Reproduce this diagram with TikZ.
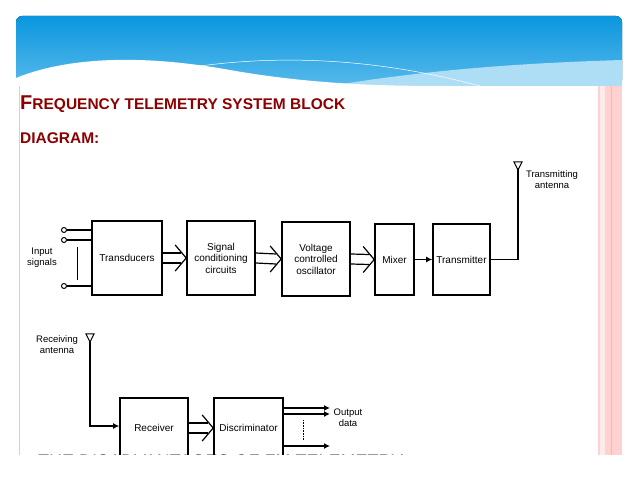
\documentclass[tikz,border=0pt]{standalone}
\usepackage{fontspec}
\setmainfont{Liberation Sans}
\usetikzlibrary{arrows.meta}
\begin{document}
\begin{tikzpicture}[x=1pt,y=-1pt,
  blk/.style={draw,line width=1.6pt,inner sep=0pt,align=center,font=\fontsize{10}{11.5}\selectfont},
  lbl/.style={align=center,font=\fontsize{9.5}{11}\selectfont},
  ln/.style={line width=1.2pt},
  arr/.style={ln,-{Latex[length=6pt,width=6pt]}},
  ttl/.style={font=\bfseries\fontsize{20}{22}\selectfont,text=red!55!black,anchor=west,inner sep=0pt}]
\useasboundingbox (0,0) rectangle (638,478);
\fill[white] (0,0) rectangle (638,478);
% header
\definecolor{hb}{RGB}{10,150,222}
\definecolor{hl}{RGB}{120,200,240}
\fill[top color=hb,bottom color=hl!70!hb,rounded corners=6pt] (16,86) -- (16,16) -- (622,16) -- (622,86) -- cycle;
\fill[hl!60!white] (330,86) .. controls (450,66) and (560,62) .. (622,60) -- (622,86) -- cycle;
\fill[white] (16,86) -- (16,78) .. controls (60,60) and (130,52) .. (230,70) .. controls (320,86) and (400,86) .. (450,86) -- cycle;
\draw[white,line width=0.5pt] (200,66) .. controls (320,50) and (420,70) .. (480,86);
% side bars
\fill[red!18!white] (598,86) rectangle (622,455);
\fill[red!8!white] (600,86) rectangle (605,455);
\draw[red!30!white,line width=0.8pt] (611,86) -- (611,455);
\draw[red!25!white,line width=1pt] (19,86) -- (19,455);
% title
\node[ttl] (t1) at (20,104) {F\fontsize{15.5}{17}\selectfont REQUENCY TELEMETRY SYSTEM BLOCK};
\node[ttl] (t2) at (20,138) {\fontsize{15.5}{17}\selectfont DIAGRAM:};
% blocks
\node[blk,minimum width=70pt,minimum height=74pt] (tr) at (127,258) {Transducers};
\node[blk,minimum width=68pt,minimum height=74pt] (sc) at (221,258) {Signal\\conditioning\\circuits};
\node[blk,minimum width=68pt,minimum height=74pt] (vco) at (316,259) {Voltage\\controlled\\oscillator};
\node[blk,minimum width=39pt,minimum height=71pt] (mx) at (394.5,259.5) {Mixer};
\node[blk,minimum width=57pt,minimum height=71pt] (tx) at (461.5,259.5) {Transmitter};
\node[blk,minimum width=68pt,minimum height=60pt] (rx) at (154,428) {Receiver};
\node[blk,minimum width=69pt,minimum height=60pt] (ds) at (248.5,428) {Discriminator};
% double arrows
\foreach \a/\b in {tr/sc,sc/vco,vco/mx,rx/ds}{
  \draw[ln] ([yshift=-5pt]\a.east) -- ([xshift=-5pt,yshift=-5pt]\b.west) ([yshift=5pt]\a.east) -- ([xshift=-5pt,yshift=5pt]\b.west);
  \draw[ln] ([xshift=-11pt,yshift=-13pt]\b.west) -- (\b.west) -- ([xshift=-11pt,yshift=13pt]\b.west);
}
\draw[arr] (mx) -- (tx);
% transmitting antenna
\coordinate (ta) at (518,168);
\draw[ln] (tx.east) -| (ta);
\draw[line width=1pt] (514,162) -- (522,162) -- (518,170) -- cycle;
\node[lbl] (tal) at (552,180) {Transmitting\\antenna};
% inputs
\foreach \y [count=\i] in {230,240,286}{
  \node[draw,circle,inner sep=0pt,minimum size=5pt,line width=1pt] (in\i) at (64,\y) {};
  \draw[ln] (in\i) -- (tr.west |- in\i);
}
\draw[line width=0.5pt] (77,247) -- (77,280);
\node[lbl] (inl) at (42,258) {Input\\signals};
% receiving antenna
\coordinate (ra) at (90,342);
\draw[line width=1pt] (86,334) -- (94,334) -- (90,342) -- cycle;
\node[lbl] (ral) at (57,345) {Receiving\\antenna};
\draw[arr] (ra) -- (90,426) -- (rx.west |- 0,426);
% outputs
\coordinate (o1) at (330,408);
\coordinate (o2) at (330,414);
\coordinate (o3) at (330,446);
\draw[arr] (ds.east |- o1) -- (o1);
\draw[arr] (ds.east |- o2) -- (o2);
\draw[arr] (ds.east |- o3) -- (o3);
\draw[densely dotted,line width=0.6pt] (303,420) -- (303,440);
\node[lbl] (ol) at (348,418) {Output\\data};
% cut-off subtitle
\begin{scope}
\clip (19,440) rectangle (598,455);
\node[font=\fontsize{18}{20}\selectfont,anchor=west,inner sep=0pt] (sub) at (38,461) {THE DISADVANTAGES OF FM TELEMETRY};
\end{scope}
\fill[white] (0,455) rectangle (638,478);
\end{tikzpicture}
\end{document}
